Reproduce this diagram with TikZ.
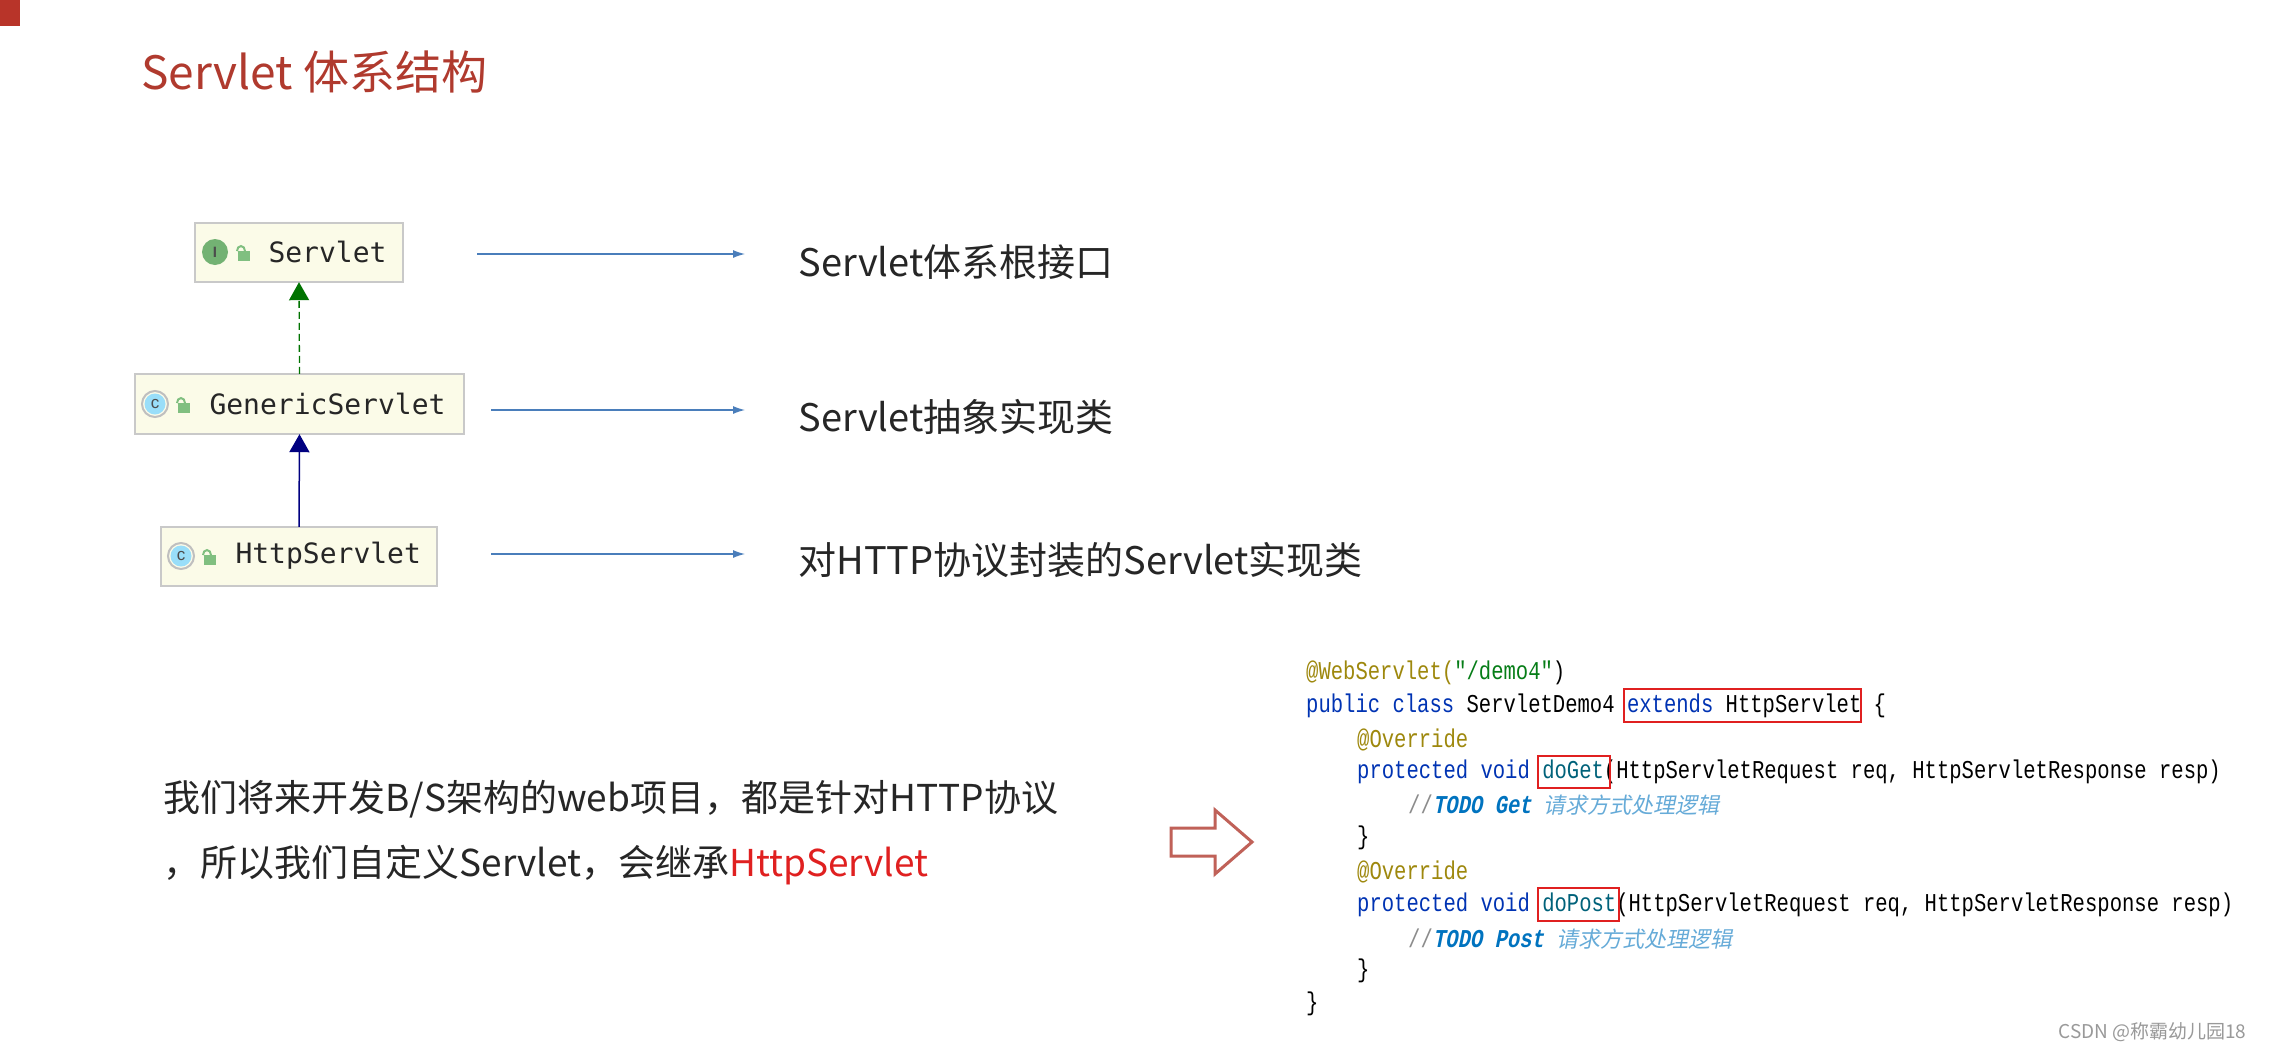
\documentclass[tikz,border=0pt]{standalone}
\usepackage{fontspec}
\usetikzlibrary{arrows.meta}
\setmainfont{Liberation Sans}
\newfontfamily\cjk{Noto Sans CJK SC}
\newfontfamily\cjkit{Noto Sans CJK SC}[FakeSlant=0.2]
\newfontfamily\boxmono{DejaVu Sans Mono}
\newfontfamily\codefont{Liberation Mono}[FakeStretch=0.8]
\newfontfamily\codeit{Liberation Mono}[FakeStretch=0.8,FakeSlant=0.2]
\definecolor{titlered}{HTML}{B03A2E}
\definecolor{boxfill}{HTML}{FBFBE8}
\definecolor{boxline}{HTML}{C9C9C9}
\definecolor{arrowblue}{HTML}{4A7EBB}
\definecolor{annot}{HTML}{9E880D}
\definecolor{kw}{HTML}{0033B3}
\definecolor{meth}{HTML}{00627A}
\definecolor{strg}{HTML}{067D17}
\definecolor{cmt}{HTML}{8C8C8C}
\definecolor{todo}{HTML}{0073BF}
\definecolor{redbox}{HTML}{E02020}
\begin{document}
\begin{tikzpicture}[x=1pt,y=-1pt,
  umlbox/.style={draw=boxline,fill=boxfill,line width=1.5pt,inner sep=0pt,anchor=north west},
  bluearr/.style={draw=arrowblue,line width=1.2pt,-{Latex[length=12pt,width=8pt]}},
  label/.style={anchor=west,font=\cjk\fontsize{38}{40}\selectfont,text=black!85},
  code/.style={anchor=west,inner sep=0pt,font=\codefont\fontsize{25.7}{27}\selectfont},
  lock/.style={fill=green!50!black!50},
  hl/.style={draw=redbox,line width=2pt}]
\useasboundingbox (0,0) rectangle (2278,1052);
\fill[white] (0,0) rectangle (2278,1052);
\fill[titlered!90!red] (0,0) rectangle (20,26);
\node[anchor=west,text=titlered,font=\cjk\fontsize{46}{48}\selectfont] (title) at (138,72) {Servlet 体系结构};
% UML boxes
\path[umlbox] (195,223) rectangle (403,282);
\node[minimum width=208pt,minimum height=59pt,inner sep=0pt] (servlet) at (299,252.5) {};
\path[umlbox] (135,374) rectangle (464,434);
\node[minimum width=329pt,minimum height=60pt,inner sep=0pt] (generic) at (299.5,404) {};
\path[umlbox] (161,527) rectangle (437,586);
\node[minimum width=276pt,minimum height=59pt,inner sep=0pt] (http) at (299,556.5) {};
% icons
\fill[green!45!black!55] (215,252) circle (13pt);
\node[font=\bfseries\fontsize{15}{15}\selectfont,text=black!70] at (215,252) {I};
\fill[lock] (238,251) rectangle (250,261);
\draw[green!50!black!50,line width=2pt] (237,251) arc (0:180:-4pt and 5pt);
\node[anchor=west,font=\boxmono\fontsize{28}{30}\selectfont,text=black!85] (t1) at (265,252) {Servlet};
\draw[gray!50,line width=2pt] (155,404) circle (13pt);
\fill[cyan!40] (155,404) circle (10.5pt);
\node[font=\fontsize{17}{17}\selectfont,text=black!70] at (155,404) {c};
\fill[lock] (178,403) rectangle (190,413);
\draw[green!50!black!50,line width=2pt] (177,403) arc (0:180:-4pt and 5pt);
\node[anchor=west,font=\boxmono\fontsize{28}{30}\selectfont,text=black!85] (t2) at (206,404) {GenericServlet};
\draw[gray!50,line width=2pt] (181,556) circle (13pt);
\fill[cyan!40] (181,556) circle (10.5pt);
\node[font=\fontsize{17}{17}\selectfont,text=black!70] at (181,556) {c};
\fill[lock] (204,555) rectangle (216,565);
\draw[green!50!black!50,line width=2pt] (203,555) arc (0:180:-4pt and 5pt);
\node[anchor=west,font=\boxmono\fontsize{28}{30}\selectfont,text=black!85] (t3) at (232,556) {HttpServlet};
% inheritance
\draw[green!45!black,line width=1.3pt,dash pattern=on 7pt off 4pt,-{Triangle[length=18pt,width=20pt]}] (generic.north) -- (servlet.south);
\draw[blue!50!black,line width=1.5pt,-{Triangle[length=18pt,width=20pt]}] (http.north) -- (generic.south);
% labels
\node[label] (l1) at (795,262) {Servlet体系根接口};
\node[label] (l2) at (795,417) {Servlet抽象实现类};
\node[label] (l3) at (795,560) {对HTTP协议封装的Servlet实现类};
\coordinate (s1) at (477,254); \coordinate (s2) at (491,410); \coordinate (s3) at (491,554);
\coordinate (e1) at (745,254); \coordinate (e2) at (745,410); \coordinate (e3) at (745,554);
\draw[bluearr] (s1) -- (e1);
\draw[bluearr] (s2) -- (e2);
\draw[bluearr] (s3) -- (e3);
% bottom text
\node[anchor=west,font=\cjk\fontsize{37}{40}\selectfont,text=black!85] (b1) at (160,799) {我们将来开发B/S架构的web项目，都是针对HTTP协议};
\node[anchor=west,font=\cjk\fontsize{37}{40}\selectfont,text=black!85] (b2) at (160,865) {，所以我们自定义Servlet，会继承\textcolor{redbox}{HttpServlet}};
% hollow arrow
\draw[titlered!80,line width=3pt,fill=white,line join=miter] (1171,828) -- (1215,828) -- (1215,810) -- (1252,842) -- (1215,874) -- (1215,856) -- (1171,856) -- cycle;
% code
\node[code,text=annot] (c1) at (1306,673) {@WebServlet(\textcolor{strg}{"/demo4"}\textcolor{black}{)}};
\node[code] (c2) at (1306,706) {\textcolor{kw}{public class} ServletDemo4 \textcolor{kw}{extends} HttpServlet \{};
\node[code,text=annot] (c3) at (1357,740) {@Override};
\node[code] (c4) at (1357,772) {\textcolor{kw}{protected void} \textcolor{meth}{doGet}(HttpServletRequest req, HttpServletResponse resp)};
\node[code] (c5) at (1408,805) {\textcolor{cmt}{//}\textcolor{todo}{\codeit\bfseries TODO Get }\textcolor{todo!60}{\cjkit\fontsize{22}{24}\selectfont 请求方式处理逻辑}};
\node[code] (c6) at (1357,838) {\}};
\node[code,text=annot] (c7) at (1357,872) {@Override};
\node[code] (c8) at (1357,905) {\textcolor{kw}{protected void} \textcolor{meth}{doPost}(HttpServletRequest req, HttpServletResponse resp)};
\node[code] (c9) at (1408,939) {\textcolor{cmt}{//}\textcolor{todo}{\codeit\bfseries TODO Post }\textcolor{todo!60}{\cjkit\fontsize{22}{24}\selectfont 请求方式处理逻辑}};
\node[code] (c10) at (1357,971) {\}};
\node[code] (c11) at (1306,1004) {\}};
\draw[hl] (1624,689) rectangle (1861,722);
\draw[hl] (1538,756) rectangle (1610,788);
\draw[hl] (1538,888) rectangle (1619,921);
% watermark
\node[anchor=east,font=\cjk\fontsize{19}{20}\selectfont,text=gray!80] (wm) at (2250,1032) {CSDN @称霸幼儿园18};
\end{tikzpicture}
\end{document}
